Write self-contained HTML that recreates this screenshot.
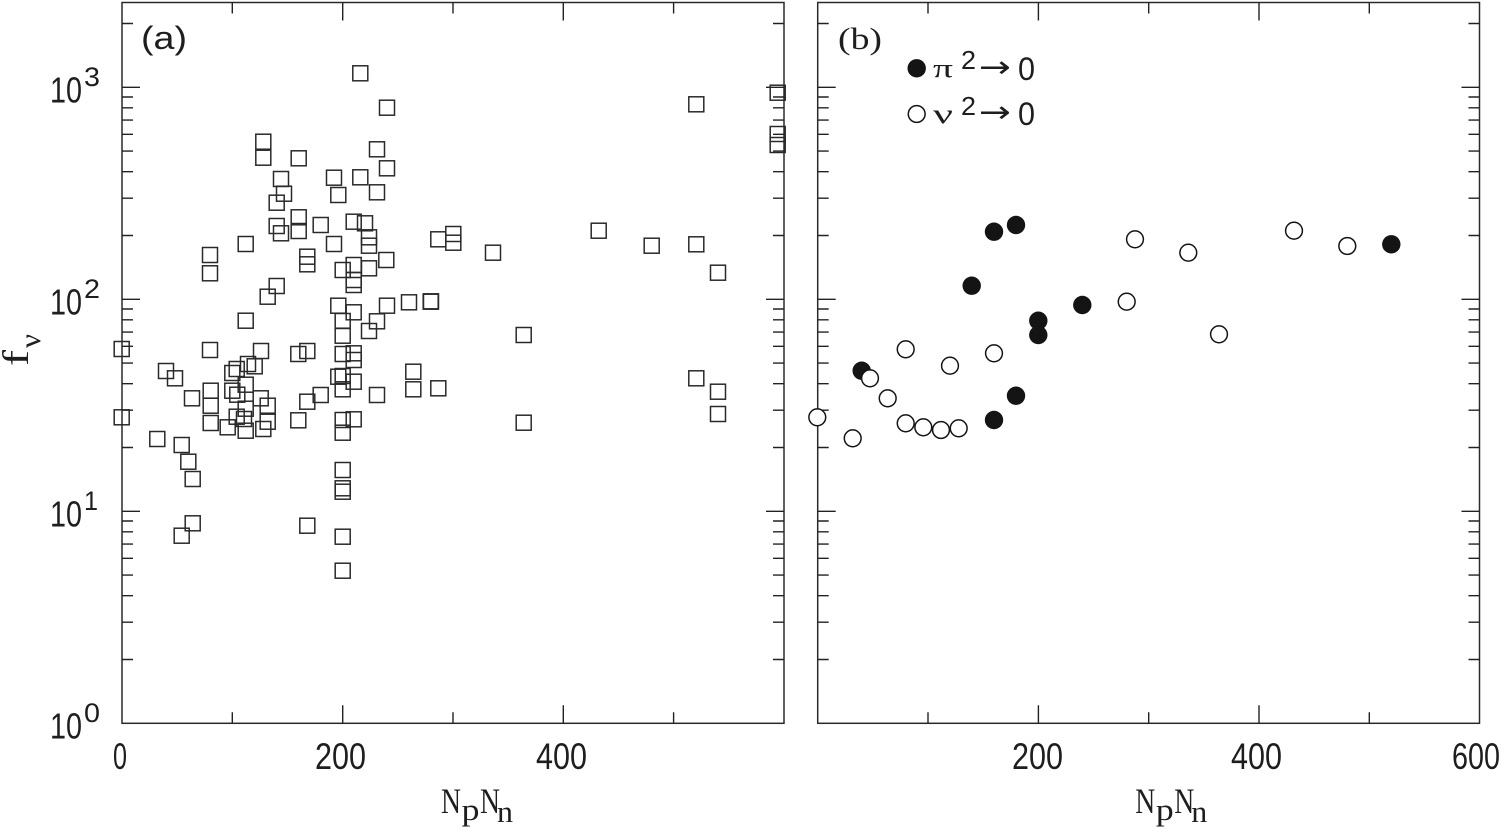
<!DOCTYPE html>
<html><head><meta charset="utf-8"><style>
html,body{margin:0;padding:0;background:#fff;}
svg{display:block;}
</style></head><body>
<svg width="1504" height="834" viewBox="0 0 1504 834" xmlns="http://www.w3.org/2000/svg" font-family="Liberation Sans, sans-serif" fill="#1e1e1e">
<defs>
<g id="yt" stroke="#222" stroke-width="1.4" fill="none">
<path d="M0 659.5h11M0 622.2h11M0 595.7h11M0 575.1h11M0 558.3h11M0 544.1h11M0 531.8h11M0 521h11M0 447.5h11M0 410.2h11M0 383.7h11M0 363.1h11M0 346.3h11M0 332.1h11M0 319.8h11M0 309h11M0 235.5h11M0 198.2h11M0 171.7h11M0 151.1h11M0 134.3h11M0 120.1h11M0 107.8h11M0 97h11M0 23.5h11"/>
<path d="M0 511.3h18M0 299.3h18M0 87.3h18"/>
</g>
<g id="xt" stroke="#222" stroke-width="1.4" fill="none">
<path d="M110.3 723.3v-11M331.0 723.3v-11M551.6 723.3v-11M220.7 723.3v-18M441.3 723.3v-18"/>
<path d="M110.3 2.5v11M331.0 2.5v11M551.6 2.5v11M220.7 2.5v18M441.3 2.5v18"/>
</g>
<rect id="s" x="-7.5" y="-7.5" width="15" height="15" fill="none" stroke="#2a2a2a" stroke-width="1.5"/>
</defs>

<!-- frames -->
<rect x="122" y="2.5" width="662" height="720.8" fill="none" stroke="#2a2a2a" stroke-width="1.5"/>
<rect x="817.7" y="2.5" width="661.8" height="720.8" fill="none" stroke="#2a2a2a" stroke-width="1.5"/>

<!-- ticks -->
<use href="#yt" transform="translate(122,0)"/>
<use href="#yt" transform="translate(784,0) scale(-1,1)"/>
<use href="#yt" transform="translate(817.7,0)"/>
<use href="#yt" transform="translate(1479.5,0) scale(-1,1)"/>
<use href="#xt" transform="translate(122,0)"/>
<use href="#xt" transform="translate(817.7,0)"/>

<!-- y labels -->
<g font-family="Liberation Sans, sans-serif">
<text x="50" y="738.3" font-size="36" textLength="32" lengthAdjust="spacingAndGlyphs">10</text>
<text x="84" y="722" font-size="27" textLength="16" lengthAdjust="spacingAndGlyphs">0</text>
<text x="50" y="526.3" font-size="36" textLength="32" lengthAdjust="spacingAndGlyphs">10</text>
<text x="84" y="510" font-size="27" textLength="14" lengthAdjust="spacingAndGlyphs">1</text>
<text x="50" y="314.3" font-size="36" textLength="32" lengthAdjust="spacingAndGlyphs">10</text>
<text x="84" y="298" font-size="27" textLength="16" lengthAdjust="spacingAndGlyphs">2</text>
<text x="50" y="102.3" font-size="36" textLength="32" lengthAdjust="spacingAndGlyphs">10</text>
<text x="84" y="86" font-size="27" textLength="16" lengthAdjust="spacingAndGlyphs">3</text>
</g>

<!-- f_nu -->
<text transform="translate(28,366) rotate(-90)" font-family="Liberation Serif, serif" font-size="37"><tspan textLength="16" lengthAdjust="spacingAndGlyphs">f</tspan><tspan x="18" dy="12" font-size="30" textLength="14" lengthAdjust="spacingAndGlyphs">ν</tspan></text>

<!-- x labels -->
<g font-family="Liberation Sans, sans-serif">
<text x="113" y="769" font-size="37" textLength="14" lengthAdjust="spacingAndGlyphs">0</text>
<text x="315" y="769" font-size="37" textLength="51" lengthAdjust="spacingAndGlyphs">200</text>
<text x="536" y="769" font-size="37" textLength="51" lengthAdjust="spacingAndGlyphs">400</text>
<text x="1012" y="769" font-size="37" textLength="51" lengthAdjust="spacingAndGlyphs">200</text>
<text x="1231" y="769" font-size="37" textLength="51" lengthAdjust="spacingAndGlyphs">400</text>
<text x="1452" y="769" font-size="37" textLength="48" lengthAdjust="spacingAndGlyphs">600</text>
</g>

<!-- NpNn -->
<g font-family="Liberation Serif, serif">
<text x="441" y="813" font-size="36" textLength="20" lengthAdjust="spacingAndGlyphs">N</text>
<text x="461.5" y="820" font-size="31" textLength="18" lengthAdjust="spacingAndGlyphs">p</text>
<text x="480" y="813" font-size="36" textLength="20" lengthAdjust="spacingAndGlyphs">N</text>
<text x="497" y="822" font-size="31" textLength="16" lengthAdjust="spacingAndGlyphs">n</text>
<text x="1135.3" y="813" font-size="36" textLength="20" lengthAdjust="spacingAndGlyphs">N</text>
<text x="1155.8" y="820" font-size="31" textLength="18" lengthAdjust="spacingAndGlyphs">p</text>
<text x="1174.3" y="813" font-size="36" textLength="20" lengthAdjust="spacingAndGlyphs">N</text>
<text x="1191.3" y="822" font-size="31" textLength="16" lengthAdjust="spacingAndGlyphs">n</text>
</g>

<!-- panel labels -->
<text x="141" y="49" font-size="32" textLength="46" lengthAdjust="spacingAndGlyphs" font-family="Liberation Sans, sans-serif">(a)</text>
<text x="838" y="49" font-size="31" textLength="44" lengthAdjust="spacingAndGlyphs" font-family="Liberation Serif, serif">(b)</text>

<!-- legend -->
<circle cx="916.7" cy="68.3" r="9.2" fill="#141414"/>
<circle cx="916.7" cy="114" r="8.4" fill="none" stroke="#141414" stroke-width="1.5"/>
<text x="933" y="77" font-size="26" textLength="20" lengthAdjust="spacingAndGlyphs" font-family="Liberation Serif, serif">π</text>
<text x="961" y="69" font-size="26" textLength="15" lengthAdjust="spacingAndGlyphs" font-family="Liberation Sans, sans-serif">2</text>
<text x="979" y="77" font-size="30" textLength="32" lengthAdjust="spacingAndGlyphs" font-family="DejaVu Sans, sans-serif">→</text>
<text x="1018" y="80" font-size="32" textLength="17" lengthAdjust="spacingAndGlyphs" font-family="Liberation Sans, sans-serif">0</text>
<text x="933" y="123" font-size="27" textLength="20" lengthAdjust="spacingAndGlyphs" font-family="Liberation Serif, serif">ν</text>
<text x="961" y="115" font-size="26" textLength="15" lengthAdjust="spacingAndGlyphs" font-family="Liberation Sans, sans-serif">2</text>
<text x="979" y="122" font-size="30" textLength="32" lengthAdjust="spacingAndGlyphs" font-family="DejaVu Sans, sans-serif">→</text>
<text x="1018" y="125" font-size="32" textLength="17" lengthAdjust="spacingAndGlyphs" font-family="Liberation Sans, sans-serif">0</text>

<!-- panel a squares -->
<g>
<use href="#s" x="360.3" y="73.3"/><use href="#s" x="387" y="107.7"/><use href="#s" x="263.3" y="141.7"/><use href="#s" x="263.3" y="157.7"/>
<use href="#s" x="298.7" y="158.3"/><use href="#s" x="377" y="149.3"/><use href="#s" x="387" y="168.3"/><use href="#s" x="281" y="179"/>
<use href="#s" x="334" y="177.7"/><use href="#s" x="360.3" y="177.3"/><use href="#s" x="284" y="193.7"/><use href="#s" x="276.7" y="202.7"/>
<use href="#s" x="338.3" y="195"/><use href="#s" x="377" y="192.3"/><use href="#s" x="276.7" y="226"/><use href="#s" x="281" y="233.3"/>
<use href="#s" x="298.7" y="217.3"/><use href="#s" x="298.7" y="231"/><use href="#s" x="320.7" y="225"/><use href="#s" x="353.7" y="221.7"/>
<use href="#s" x="365" y="223.3"/><use href="#s" x="369" y="237.3"/><use href="#s" x="369" y="245.7"/><use href="#s" x="245.7" y="244"/>
<use href="#s" x="210" y="255"/><use href="#s" x="210" y="273.3"/><use href="#s" x="334" y="244"/><use href="#s" x="307.3" y="256.7"/>
<use href="#s" x="307.3" y="264.3"/><use href="#s" x="386.3" y="260"/><use href="#s" x="342.7" y="270"/><use href="#s" x="353.7" y="265"/>
<use href="#s" x="369" y="268.3"/><use href="#s" x="353.7" y="280"/><use href="#s" x="353.7" y="285"/><use href="#s" x="276.7" y="286"/>
<use href="#s" x="267.7" y="296.7"/><use href="#s" x="338.3" y="305.7"/><use href="#s" x="353.7" y="312.3"/><use href="#s" x="387" y="305.7"/>
<use href="#s" x="409" y="302.3"/><use href="#s" x="430.7" y="301.7"/><use href="#s" x="245.7" y="320.7"/><use href="#s" x="342.7" y="321"/>
<use href="#s" x="342.7" y="335.7"/><use href="#s" x="377" y="321.3"/><use href="#s" x="369" y="331"/>
<use href="#s" x="121.7" y="349"/><use href="#s" x="210" y="350"/><use href="#s" x="261" y="351"/><use href="#s" x="298.3" y="354"/>
<use href="#s" x="307.3" y="351"/><use href="#s" x="342.7" y="354"/><use href="#s" x="353.7" y="353.3"/><use href="#s" x="353.7" y="360"/>
<use href="#s" x="248" y="364"/><use href="#s" x="254.7" y="366.3"/><use href="#s" x="236.7" y="369"/><use href="#s" x="232.3" y="373"/>
<use href="#s" x="166" y="371"/><use href="#s" x="175" y="378.3"/><use href="#s" x="338.3" y="376.7"/><use href="#s" x="342.7" y="376"/>
<use href="#s" x="353.7" y="381.7"/><use href="#s" x="342.7" y="389.3"/><use href="#s" x="413.3" y="371.7"/><use href="#s" x="413.3" y="389.3"/>
<use href="#s" x="438.3" y="388.3"/><use href="#s" x="320.7" y="395"/><use href="#s" x="307.3" y="401.7"/><use href="#s" x="377" y="395"/>
<use href="#s" x="192" y="398.3"/><use href="#s" x="210.7" y="390.7"/><use href="#s" x="210.7" y="405.7"/><use href="#s" x="245.7" y="384.7"/>
<use href="#s" x="232.3" y="390.7"/><use href="#s" x="237.3" y="394.7"/><use href="#s" x="260.7" y="398.3"/><use href="#s" x="267.7" y="405.7"/>
<use href="#s" x="245.7" y="408.7"/><use href="#s" x="236.7" y="416.7"/><use href="#s" x="267.7" y="421.7"/><use href="#s" x="263.3" y="429"/>
<use href="#s" x="245.7" y="430.7"/><use href="#s" x="227.7" y="427.3"/><use href="#s" x="210.7" y="423"/><use href="#s" x="244" y="419"/>
<use href="#s" x="298.3" y="420.3"/><use href="#s" x="342.7" y="420"/><use href="#s" x="353.7" y="419.3"/><use href="#s" x="342.7" y="432.7"/>
<use href="#s" x="121.7" y="417.3"/><use href="#s" x="157.3" y="439"/><use href="#s" x="181.7" y="445"/><use href="#s" x="188.3" y="461.7"/>
<use href="#s" x="192.7" y="479"/><use href="#s" x="342.7" y="470"/><use href="#s" x="342.7" y="488.3"/><use href="#s" x="342.7" y="491.7"/>
<use href="#s" x="192.7" y="523.3"/><use href="#s" x="181.7" y="535.7"/><use href="#s" x="307.3" y="525.7"/><use href="#s" x="342.7" y="536.7"/>
<use href="#s" x="342.7" y="570.7"/>
<use href="#s" x="777.7" y="92.7"/><use href="#s" x="777.7" y="134"/><use href="#s" x="777.7" y="145"/><use href="#s" x="696.3" y="104.3"/>
<use href="#s" x="438.3" y="239.3"/><use href="#s" x="453.3" y="234"/><use href="#s" x="453.3" y="242.7"/><use href="#s" x="493" y="252.7"/>
<use href="#s" x="598.7" y="230.7"/><use href="#s" x="651.7" y="245.7"/><use href="#s" x="696.3" y="244.3"/><use href="#s" x="718" y="272.7"/>
<use href="#s" x="431" y="301.3"/><use href="#s" x="523.7" y="335"/><use href="#s" x="696.3" y="378.3"/><use href="#s" x="718" y="391.7"/>
<use href="#s" x="718" y="414"/><use href="#s" x="523.7" y="422.7"/>
</g>

<!-- panel b circles -->
<g fill="#141414">
<circle cx="994" cy="231.7" r="9.2"/><circle cx="1016" cy="225" r="9.2"/><circle cx="971.7" cy="285.7" r="9.2"/>
<circle cx="1082.3" cy="305" r="9.2"/><circle cx="1038.3" cy="320.7" r="9.2"/><circle cx="1038.3" cy="335" r="9.2"/>
<circle cx="861.7" cy="370.7" r="9.2"/><circle cx="1016" cy="395.7" r="9.2"/><circle cx="994" cy="420" r="9.2"/>
<circle cx="1391.3" cy="244.3" r="9.2"/>
</g>
<g fill="#fff" stroke="#141414" stroke-width="1.5">
<circle cx="1135" cy="239.3" r="8.4"/><circle cx="1126.7" cy="301.7" r="8.4"/><circle cx="905.7" cy="349.3" r="8.4"/>
<circle cx="994" cy="353.3" r="8.4"/><circle cx="950" cy="365.7" r="8.4"/><circle cx="870" cy="378.3" r="8.4"/>
<circle cx="887.7" cy="398.3" r="8.4"/><circle cx="817.3" cy="417.3" r="8.4"/><circle cx="852.7" cy="438.3" r="8.4"/>
<circle cx="905.7" cy="423.3" r="8.4"/><circle cx="923.3" cy="427.3" r="8.4"/><circle cx="941" cy="430" r="8.4"/>
<circle cx="958.7" cy="428.3" r="8.4"/>
<circle cx="1188.3" cy="252.7" r="8.4"/><circle cx="1219" cy="334.3" r="8.4"/><circle cx="1294" cy="230.7" r="8.4"/>
<circle cx="1347.3" cy="246" r="8.4"/>
</g>
</svg>
</body></html>
